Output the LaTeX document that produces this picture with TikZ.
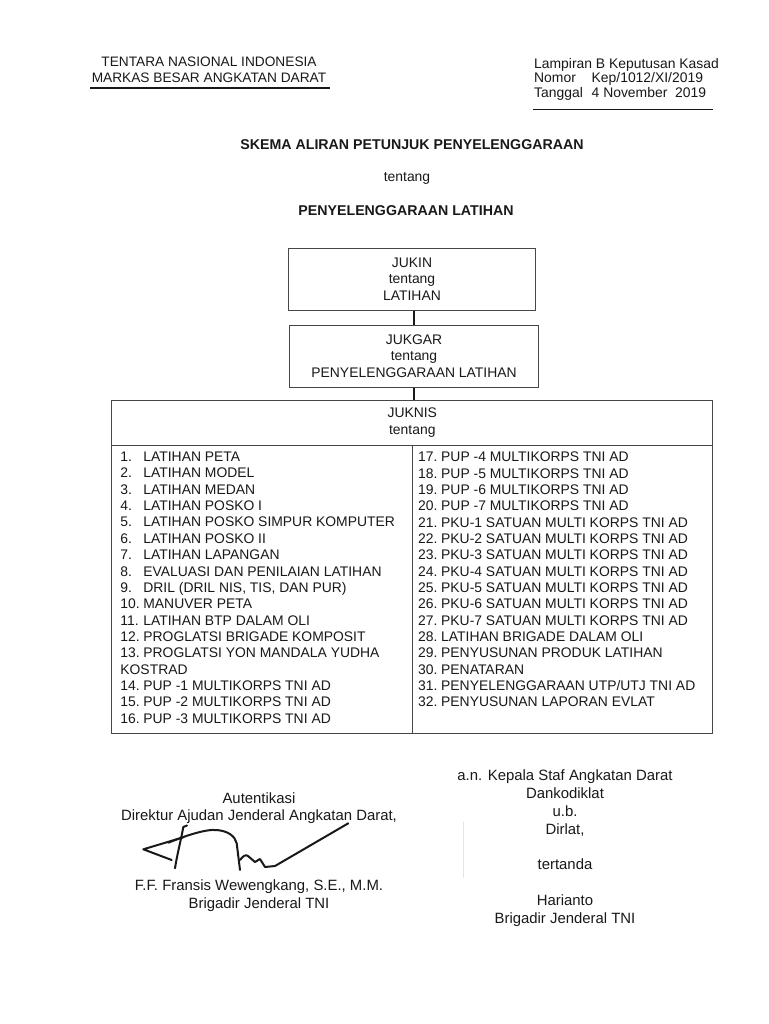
\documentclass[tikz,border=0pt]{standalone}
\usepackage{fontspec}
\setmainfont{Liberation Sans}
\usetikzlibrary{positioning,calc}
\definecolor{inkblack}{RGB}{25,25,25}
\definecolor{framegray}{RGB}{70,70,70}
\newcommand{\docsize}{\fontsize{13.9}{16.35}\selectfont}
\newcommand{\nr}[1]{\makebox[23pt][l]{#1.}}

\begin{document}
\begin{tikzpicture}[
    x=1pt, y=-1pt,
    font=\docsize,
    text=inkblack,
    % Boxes of the guide hierarchy
    guidebox/.style={
        draw=framegray,
        line width=1pt,
        align=center,
        inner sep=0pt,
        font=\fontsize{13.9}{16.3}\selectfont
    },
    link/.style={
        draw=inkblack,
        line width=1.6pt
    },
    listcol/.style={
        anchor=north west,
        align=left,
        inner sep=0pt
    },
    signtext/.style={
        anchor=north,
        align=center,
        inner sep=0pt
    },
    signpen/.style={
        draw=inkblack,
        line width=2pt,
        line cap=round,
        line join=round
    }
]
    \useasboundingbox[fill=white] (0,0) rectangle (768,1024);

    % =========================================================================
    % 1. LETTER HEAD
    % =========================================================================
    \node[align=center, anchor=north, inner sep=0pt, font=\fontsize{13.7}{16}\selectfont]
        (kop) at (209, 57) {TENTARA NASIONAL INDONESIA\\MARKAS BESAR ANGKATAN DARAT};
    \draw[inkblack, line width=1.8pt] (90,87.7) -- (330,87.7);

    \node[listcol, font=\fontsize{13.9}{14.6}\selectfont] (lampiran) at (534, 58) {
        Lampiran B Keputusan Kasad\\
        \makebox[57.5pt][l]{Nomor}Kep/1012/XI/2019\\
        \makebox[57.5pt][l]{Tanggal}4 November\ \ 2019
    };
    \draw[inkblack, line width=0.9pt] (533,109.5) -- (713,109.5);

    % =========================================================================
    % 2. TITLE
    % =========================================================================
    \node[anchor=base, font=\fontsize{14.2}{16}\selectfont\bfseries] (judul) at (412,150)
        {SKEMA ALIRAN PETUNJUK PENYELENGGARAAN};
    \node[anchor=base] (tentang) at (407,182) {tentang};
    \node[anchor=base, font=\fontsize{14.2}{16}\selectfont\bfseries] (subjudul) at (406,216)
        {PENYELENGGARAAN LATIHAN};

    % =========================================================================
    % 3. GUIDE HIERARCHY
    % =========================================================================
    \node[guidebox, minimum width=247pt, minimum height=62pt] (jukin) at (412,279)
        {JUKIN\\tentang\\LATIHAN};
    \node[guidebox, minimum width=249pt, minimum height=62pt] (jukgar) at (414,356)
        {JUKGAR\\tentang\\PENYELENGGARAAN LATIHAN};
    \node[guidebox, minimum width=601pt, minimum height=45pt, font=\fontsize{13.9}{16.5}\selectfont]
        (juknis) at (412.3,422.5) {JUKNIS\\tentang};

    % Connecting lines
    \draw[link] (jukgar.north) -- (jukgar.north |- jukin.south);
    \draw[link] (jukgar.south) -- (jukgar.south |- juknis.north);

    % =========================================================================
    % 4. LIST OF JUKNIS
    % =========================================================================
    \node[draw=framegray, line width=1pt, minimum width=601pt, minimum height=288.3pt, inner sep=0pt]
        (daftar) at (412.3,589.2) {};
    \draw[draw=framegray, line width=1pt] (daftar.north) -- (daftar.south);

    % Left column
    \node[listcol] (kolomkiri) at (120.2,451.8) {
        \nr{1}LATIHAN PETA\\
        \nr{2}LATIHAN MODEL\\
        \nr{3}LATIHAN MEDAN\\
        \nr{4}LATIHAN POSKO I\\
        \nr{5}LATIHAN POSKO SIMPUR KOMPUTER\\
        \nr{6}LATIHAN POSKO II\\
        \nr{7}LATIHAN LAPANGAN\\
        \nr{8}EVALUASI DAN PENILAIAN LATIHAN\\
        \nr{9}DRIL (DRIL NIS, TIS, DAN PUR)\\
        \nr{10}MANUVER PETA\\
        \nr{11}LATIHAN BTP DALAM OLI\\
        \nr{12}PROGLATSI BRIGADE KOMPOSIT\\
        \nr{13}PROGLATSI YON MANDALA YUDHA\\
        KOSTRAD\\
        \nr{14}PUP -1 MULTIKORPS TNI AD\\
        \nr{15}PUP -2 MULTIKORPS TNI AD\\
        \nr{16}PUP -3 MULTIKORPS TNI AD
    };

    % Right column
    \node[listcol] (kolomkanan) at (418,451.8) {
        \nr{17}PUP -4 MULTIKORPS TNI AD\\
        \nr{18}PUP -5 MULTIKORPS TNI AD\\
        \nr{19}PUP -6 MULTIKORPS TNI AD\\
        \nr{20}PUP -7 MULTIKORPS TNI AD\\
        \nr{21}PKU-1 SATUAN MULTI KORPS TNI AD\\
        \nr{22}PKU-2 SATUAN MULTI KORPS TNI AD\\
        \nr{23}PKU-3 SATUAN MULTI KORPS TNI AD\\
        \nr{24}PKU-4 SATUAN MULTI KORPS TNI AD\\
        \nr{25}PKU-5 SATUAN MULTI KORPS TNI AD\\
        \nr{26}PKU-6 SATUAN MULTI KORPS TNI AD\\
        \nr{27}PKU-7 SATUAN MULTI KORPS TNI AD\\
        \nr{28}LATIHAN BRIGADE DALAM OLI\\
        \nr{29}PENYUSUNAN PRODUK LATIHAN\\
        \nr{30}PENATARAN\\
        \nr{31}PENYELENGGARAAN UTP/UTJ TNI AD\\
        \nr{32}PENYUSUNAN LAPORAN EVLAT
    };

    % =========================================================================
    % 5. SIGNATURES
    % =========================================================================
    % Left: authentication
    \node[signtext, font=\fontsize{14.9}{17}\selectfont] (autentikasi) at (259,792.3)
        {Autentikasi\\Direktur Ajudan Jenderal Angkatan Darat,};
    \node[signtext, font=\fontsize{14.9}{18}\selectfont] (pejabatkiri) at (259,879.3)
        {F.F. Fransis Wewengkang, S.E., M.M.\\Brigadir Jenderal TNI};

    % Handwritten signature
    \draw[signpen] (187,825.5) -- (183.3,827) .. controls (181,840) and (177,855) .. (175,868.3);
    \draw[signpen] (183.3,837.3) -- (143.3,849.3) -- (171.7,860);
    \draw[signpen] (168.3,842.7) .. controls (185,836) and (205,829) .. (216.7,830)
        .. controls (228,831) and (235,836) .. (236.7,843.3) -- (240,870);
    \draw[signpen] (240,860) .. controls (243,856) and (246,854) .. (248,856)
        -- (255,862) -- (260,859) -- (265,867) -- (275,866) -- (348.3,823.3);

    % Right: on behalf of Kasad
    \node[signtext, font=\fontsize{14.9}{17.9}\selectfont] (pejabatkanan) at (565,769.3) {
        a.n. Kepala Staf Angkatan Darat\\
        Dankodiklat\\
        u.b.\\
        Dirlat,\\[17.9pt]
        tertanda\\[17.9pt]
        Harianto\\
        Brigadir Jenderal TNI
    };
    \draw[gray!20, line width=0.8pt] (463.3,821.7) -- (463.3,878.3);

\end{tikzpicture}
\end{document}
